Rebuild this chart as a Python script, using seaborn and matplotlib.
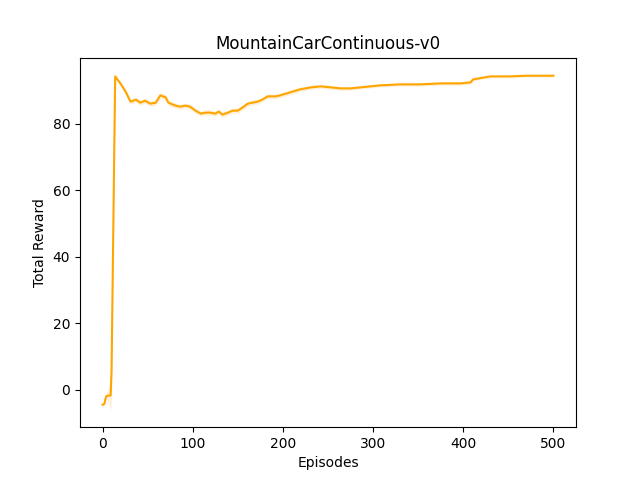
import numpy as np
import matplotlib
matplotlib.use("Agg")
import matplotlib.pyplot as plt
import seaborn as sns

# mean total reward per episode
episodes = [0, 1, 2, 3, 4, 5, 9, 10, 14, 20, 26, 31, 37, 42, 47, 53, 59, 64,
            70, 73, 81, 86, 92, 97, 103, 109, 114, 120, 125, 129, 133, 139, 144,
            150, 155, 161, 166, 172, 177, 183, 192, 197, 208, 219, 231, 242, 253,
            264, 275, 286, 308, 330, 353, 375, 397, 408, 411, 430, 452, 469, 485, 500]
reward = [-4.5, -4.4, -4.2, -3.0, -2.0, -1.8, -1.7, 6.0, 94.2, 92.0, 89.4,
          86.6, 87.2, 86.3, 86.9, 86.0, 86.3, 88.5, 87.9, 86.3, 85.4, 85.1, 85.4,
          85.1, 83.9, 83.0, 83.3, 83.3, 83.0, 83.6, 82.7, 83.3, 83.9, 83.9, 84.8,
          86.0, 86.3, 86.6, 87.2, 88.2, 88.2, 88.5, 89.4, 90.3, 90.9, 91.2, 90.9,
          90.6, 90.6, 90.9, 91.5, 91.8, 91.8, 92.1, 92.1, 92.4, 93.3, 94.2, 94.2,
          94.4, 94.4, 94.4]
# half-width of the shaded band
spread = [0.4, 0.4, 0.5, 0.6, 0.8, 1.0, 4.5, 10.0, 0.5, 0.7, 0.8, 0.8, 0.8,
          0.8, 0.8, 0.8, 0.8, 0.9, 0.9, 0.8, 0.8, 0.8, 0.8, 0.8, 0.8, 0.8, 0.8,
          0.8, 0.8, 0.8, 0.8, 0.8, 0.8, 0.8, 0.8, 0.8, 0.8, 0.8, 0.7, 0.7, 0.7,
          0.7, 0.7, 0.7, 0.6, 0.6, 0.6, 0.6, 0.6, 0.5, 0.5, 0.5, 0.5, 0.5, 0.5,
          0.5, 0.5, 0.4, 0.4, 0.4, 0.4, 0.4]

ep = np.array(episodes)
mean = np.array(reward)
half = np.array(spread)

fig, ax = plt.subplots(figsize=(6.4, 4.8), dpi=100)
ax.fill_between(ep, mean - half, mean + half, color="orange", alpha=0.15, linewidth=0)
sns.lineplot(x=ep, y=mean, ax=ax, color="orange", linewidth=1.5)

ax.set_title("MountainCarContinuous-v0")
ax.set_xlabel("Episodes")
ax.set_ylabel("Total Reward")

fig.savefig("out.png", dpi=100)
